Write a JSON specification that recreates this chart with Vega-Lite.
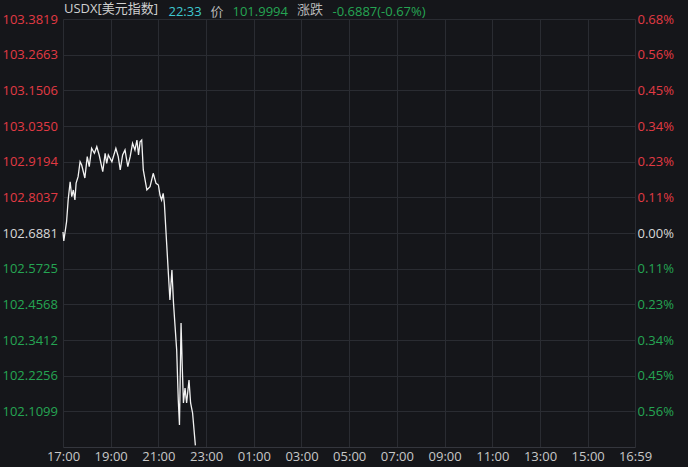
{
  "$schema": "https://vega.github.io/schema/vega-lite/v6.json",
  "width": 572,
  "height": 428,
  "autosize": {"type": "none"},
  "padding": {"left": 63, "top": 19, "right": 53, "bottom": 20},
  "background": "#15161a",
  "config": {
    "view": {"stroke": null},
    "font": "Open Sans, Noto Sans CJK SC, sans-serif",
    "axis": {"labelFont": "Open Sans, Noto Sans CJK SC, sans-serif", "titleFont": "Open Sans, Noto Sans CJK SC, sans-serif", "labelFontSize": 13, "titleFontSize": 13, "titleFontWeight": "normal"},
    "legend": {"labelFont": "Open Sans, Noto Sans CJK SC, sans-serif", "padding": 0},
    "title": {"font": "Open Sans, Noto Sans CJK SC, sans-serif"}
  },
  "title": {"text": "USDX[美元指数]", "anchor": "start", "frame": "group", "color": "#d0d0d0", "fontSize": 13, "fontWeight": "normal", "baseline": "alphabetic", "offset": 4, "dx": 1, "dy": 27},
  "data": {"values": [
    {"time": "2024-06-03T17:00:00Z", "value": 102.6914},
    {"time": "2024-06-03T17:02:00Z", "value": 102.6622},
    {"time": "2024-06-03T17:09:00Z", "value": 102.7247},
    {"time": "2024-06-03T17:13:00Z", "value": 102.7951},
    {"time": "2024-06-03T17:18:00Z", "value": 102.8544},
    {"time": "2024-06-03T17:22:00Z", "value": 102.8058},
    {"time": "2024-06-03T17:26:00Z", "value": 102.8275},
    {"time": "2024-06-03T17:30:00Z", "value": 102.7951},
    {"time": "2024-06-03T17:33:00Z", "value": 102.8502},
    {"time": "2024-06-03T17:38:00Z", "value": 102.8706},
    {"time": "2024-06-03T17:43:00Z", "value": 102.9193},
    {"time": "2024-06-03T17:47:00Z", "value": 102.9086},
    {"time": "2024-06-03T17:55:00Z", "value": 102.8664},
    {"time": "2024-06-03T18:01:00Z", "value": 102.9355},
    {"time": "2024-06-03T18:06:00Z", "value": 102.9031},
    {"time": "2024-06-03T18:12:00Z", "value": 102.9627},
    {"time": "2024-06-03T18:19:00Z", "value": 102.9465},
    {"time": "2024-06-03T18:25:00Z", "value": 102.9679},
    {"time": "2024-06-03T18:31:00Z", "value": 102.9410},
    {"time": "2024-06-03T18:40:00Z", "value": 102.8868},
    {"time": "2024-06-03T18:46:00Z", "value": 102.9465},
    {"time": "2024-06-03T18:50:00Z", "value": 102.9141},
    {"time": "2024-06-03T18:54:00Z", "value": 102.9410},
    {"time": "2024-06-03T19:03:00Z", "value": 102.9193},
    {"time": "2024-06-03T19:08:00Z", "value": 102.9410},
    {"time": "2024-06-03T19:13:00Z", "value": 102.9627},
    {"time": "2024-06-03T19:19:00Z", "value": 102.9355},
    {"time": "2024-06-03T19:24:00Z", "value": 102.8924},
    {"time": "2024-06-03T19:30:00Z", "value": 102.9410},
    {"time": "2024-06-03T19:36:00Z", "value": 102.9572},
    {"time": "2024-06-03T19:43:00Z", "value": 102.9031},
    {"time": "2024-06-03T19:49:00Z", "value": 102.9355},
    {"time": "2024-06-03T19:55:00Z", "value": 102.9789},
    {"time": "2024-06-03T20:01:00Z", "value": 102.9572},
    {"time": "2024-06-03T20:06:00Z", "value": 102.9896},
    {"time": "2024-06-03T20:10:00Z", "value": 102.9410},
    {"time": "2024-06-03T20:14:00Z", "value": 102.9841},
    {"time": "2024-06-03T20:18:00Z", "value": 102.9896},
    {"time": "2024-06-03T20:22:00Z", "value": 102.8924},
    {"time": "2024-06-03T20:31:00Z", "value": 102.8275},
    {"time": "2024-06-03T20:39:00Z", "value": 102.8382},
    {"time": "2024-06-03T20:47:00Z", "value": 102.8817},
    {"time": "2024-06-03T20:54:00Z", "value": 102.8492},
    {"time": "2024-06-03T21:00:00Z", "value": 102.8437},
    {"time": "2024-06-03T21:04:00Z", "value": 102.8113},
    {"time": "2024-06-03T21:08:00Z", "value": 102.7951},
    {"time": "2024-06-03T21:12:00Z", "value": 102.8168},
    {"time": "2024-06-03T21:15:00Z", "value": 102.7844},
    {"time": "2024-06-03T21:21:00Z", "value": 102.6492},
    {"time": "2024-06-03T21:25:00Z", "value": 102.5584},
    {"time": "2024-06-03T21:29:00Z", "value": 102.4709},
    {"time": "2024-06-03T21:34:00Z", "value": 102.5682},
    {"time": "2024-06-03T21:38:00Z", "value": 102.4612},
    {"time": "2024-06-03T21:42:00Z", "value": 102.3843},
    {"time": "2024-06-03T21:46:00Z", "value": 102.3088},
    {"time": "2024-06-03T21:50:00Z", "value": 102.1467},
    {"time": "2024-06-03T21:53:00Z", "value": 102.0656},
    {"time": "2024-06-03T21:57:00Z", "value": 102.3963},
    {"time": "2024-06-03T22:00:00Z", "value": 102.2547},
    {"time": "2024-06-03T22:03:00Z", "value": 102.1370},
    {"time": "2024-06-03T22:07:00Z", "value": 102.1856},
    {"time": "2024-06-03T22:11:00Z", "value": 102.1370},
    {"time": "2024-06-03T22:17:00Z", "value": 102.2115},
    {"time": "2024-06-03T22:21:00Z", "value": 102.1370},
    {"time": "2024-06-03T22:26:00Z", "value": 102.1046},
    {"time": "2024-06-03T22:33:00Z", "value": 101.9994}
  ]},
  "layer": [
    {
      "mark": {"type": "line", "color": "#f2f2f2", "strokeWidth": 1.3},
      "encoding": {
        "x": {
          "field": "time", "type": "temporal",
          "scale": {"type": "utc", "domain": [
            {"year": 2024, "month": 6, "date": 3, "hours": 17, "minutes": 0, "utc": true},
            {"year": 2024, "month": 6, "date": 4, "hours": 16, "minutes": 59, "utc": true}
          ]},
          "axis": {
            "orient": "bottom",
            "values": [
              {"year": 2024, "month": 6, "date": 3, "hours": 17, "utc": true},
              {"year": 2024, "month": 6, "date": 3, "hours": 19, "utc": true},
              {"year": 2024, "month": 6, "date": 3, "hours": 21, "utc": true},
              {"year": 2024, "month": 6, "date": 3, "hours": 23, "utc": true},
              {"year": 2024, "month": 6, "date": 4, "hours": 1, "utc": true},
              {"year": 2024, "month": 6, "date": 4, "hours": 3, "utc": true},
              {"year": 2024, "month": 6, "date": 4, "hours": 5, "utc": true},
              {"year": 2024, "month": 6, "date": 4, "hours": 7, "utc": true},
              {"year": 2024, "month": 6, "date": 4, "hours": 9, "utc": true},
              {"year": 2024, "month": 6, "date": 4, "hours": 11, "utc": true},
              {"year": 2024, "month": 6, "date": 4, "hours": 13, "utc": true},
              {"year": 2024, "month": 6, "date": 4, "hours": 15, "utc": true},
              {"year": 2024, "month": 6, "date": 4, "hours": 16, "minutes": 59, "utc": true}
            ],
            "format": "%H:%M",
            "labelFlush": false,
            "labelOverlap": false,
            "labelPadding": 3,
            "labelColor": "#c8c8c8",
            "grid": true,
            "gridColor": "#2a2c32",
            "domain": true,
            "domainColor": "#34363d",
            "ticks": false,
            "tickSize": 0,
            "title": "价",
            "titleColor": "#b8b8b8",
            "titleAngle": 0,
            "titleAlign": "left",
            "titleBaseline": "alphabetic",
            "titleX": 147,
            "titleY": -432
          }
        },
        "y": {
          "field": "value", "type": "quantitative",
          "scale": {"domain": [101.9943, 103.3819], "zero": false, "nice": false},
          "axis": {
            "orient": "left",
            "values": [102.1099, 102.2256, 102.3412, 102.4568, 102.5725, 102.6881, 102.8037, 102.9194, 103.035, 103.1506, 103.2663, 103.3819],
            "format": ".4f",
            "labelAlign": "left",
            "labelBaseline": "middle",
            "labelPadding": 61,
            "labelOverlap": false,
            "labelColor": {"condition": [{"test": "datum.value > 102.69", "value": "#e23a44"}, {"test": "datum.value < 102.68", "value": "#25a553"}], "value": "#d8d8d8"},
            "ticks": false,
            "tickSize": 0,
            "domain": false,
            "grid": true,
            "gridColor": "#2a2c32",
            "title": "22:33",
            "titleColor": "#3ec8d0",
            "titleAngle": 0,
            "titleAlign": "left",
            "titleBaseline": "alphabetic",
            "titleX": 105,
            "titleY": -4
          }
        }
      }
    },
    {
      "mark": {"type": "line", "strokeOpacity": 0},
      "encoding": {
        "x": {
          "field": "time", "type": "temporal",
          "axis": {
            "orient": "top",
            "labels": false,
            "ticks": false,
            "domain": false,
            "grid": false,
            "title": "-0.6887(-0.67%)",
            "titleColor": "#25a553",
            "titleAngle": 0,
            "titleAlign": "left",
            "titleBaseline": "alphabetic",
            "titleX": 269,
            "titleY": -4
          }
        },
        "y": {
          "field": "value", "type": "quantitative",
          "axis": {
            "orient": "right",
            "values": [102.1099, 102.2256, 102.3412, 102.4568, 102.5725, 102.6881, 102.8037, 102.9194, 103.035, 103.1506, 103.2663, 103.3819],
            "labelExpr": "format(abs(datum.value - 102.6881) / 102.6881 * 100, '.2f') + '%'",
            "labelAlign": "left",
            "labelBaseline": "middle",
            "labelPadding": 2,
            "labelOverlap": false,
            "labelColor": {"condition": [{"test": "datum.value > 102.69", "value": "#e23a44"}, {"test": "datum.value < 102.68", "value": "#25a553"}], "value": "#d8d8d8"},
            "ticks": false,
            "tickSize": 0,
            "domain": false,
            "grid": false,
            "title": "101.9994",
            "titleColor": "#25a553",
            "titleAngle": 0,
            "titleAlign": "left",
            "titleBaseline": "alphabetic",
            "titleX": -403,
            "titleY": -4
          }
        },
        "color": {
          "datum": "涨跌",
          "scale": {"range": ["#b8b8b8"]},
          "legend": {
            "orient": "none",
            "legendX": 221,
            "legendY": -16,
            "title": null,
            "symbolSize": 0,
            "symbolStrokeWidth": 0,
            "symbolOpacity": 0,
            "labelOffset": 0,
            "labelFontSize": 13,
            "labelColor": "#b8b8b8"
          }
        }
      }
    }
  ],
  "resolve": {"axis": {"x": "independent", "y": "independent"}}
}
